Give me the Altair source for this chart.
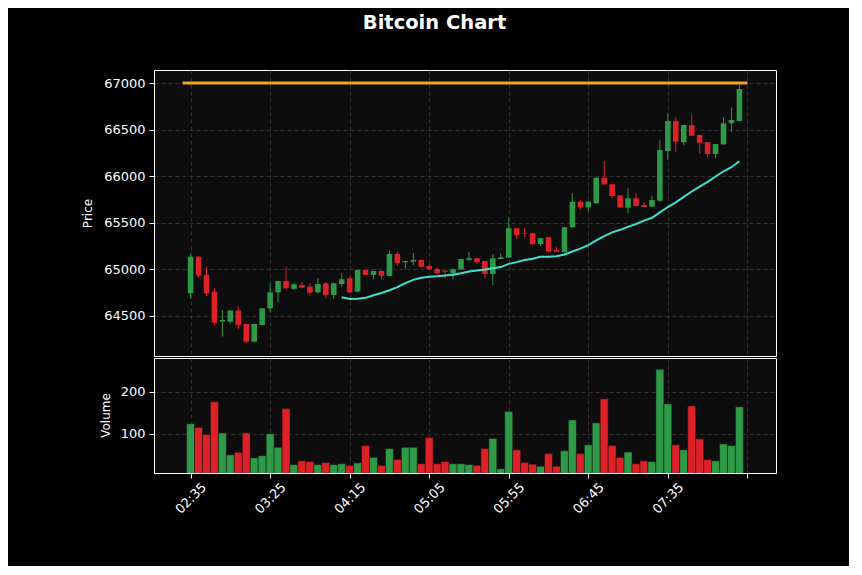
import altair as alt
import pandas as pd

# ---- data (5-minute candles, first at 02:35) ----
opens = [64744, 65136, 64940, 64761, 64439, 64439, 64557, 64414, 64224, 64403,
         64582, 64754, 64875, 64790, 64832, 64814, 64754, 64851, 64725, 64843,
         64904, 64761, 64993, 64940, 64983, 64929, 65165, 65076, 65082, 65101,
         65036, 65004, 64986, 64958, 64999, 65101, 65119, 65090, 64951, 65111,
         65126, 65441, 65387, 65387, 65272, 65345, 65208, 65183, 65452, 65726,
         65666, 65709, 65984, 65913, 65793, 65662, 65763, 65691, 65673, 65737,
         66270, 66592, 66364, 66549, 66442, 66364, 66238, 66342, 66568, 66592]
highs = [65165, 65140, 65029, 64797, 64564, 64564, 64600, 64418, 64418, 64585,
         64851, 64875, 65029, 64857, 64868, 64851, 64904, 64860, 64858, 64960,
         64922, 64997, 64997, 64986, 64986, 65201, 65190, 65093, 65179, 65108,
         65055, 65022, 64993, 65012, 65115, 65190, 65122, 65093, 65162, 65173,
         65559, 65445, 65441, 65390, 65337, 65348, 65244, 65455, 65816, 65745,
         65730, 65988, 66163, 65916, 65797, 65870, 65816, 65720, 65791, 66388,
         66675, 66638, 66553, 66664, 66445, 66367, 66348, 66632, 66739, 66979]
lows = [64689, 64911, 64715, 64403, 64278, 64422, 64357, 64207, 64215, 64400,
        64535, 64647, 64786, 64779, 64798, 64718, 64744, 64690, 64679, 64814,
        64744, 64755, 64935, 64894, 64894, 64922, 65036, 65001, 65047, 65012,
        64993, 64940, 64904, 64894, 64995, 65093, 65058, 64904, 64832, 65108,
        65123, 65323, 65334, 65262, 65251, 65179, 65188, 65180, 65449, 65637,
        65619, 65705, 65906, 65763, 65660, 65602, 65673, 65668, 65670, 65726,
        66174, 66263, 66335, 66430, 66246, 66203, 66192, 66338, 66477, 66588]
closes = [65136, 64932, 64744, 64428, 64457, 64557, 64403, 64224, 64414, 64582,
          64754, 64875, 64797, 64840, 64803, 64750, 64843, 64725, 64851, 64894,
          64754, 64993, 64940, 64983, 64932, 65165, 65065, 65090, 65101, 65029,
          65001, 64958, 64975, 65001, 65111, 65119, 65076, 64951, 65119, 65130,
          65441, 65369, 65380, 65272, 65334, 65190, 65190, 65452, 65726, 65666,
          65726, 65984, 65913, 65787, 65664, 65763, 65680, 65670, 65745, 66281,
          66592, 66370, 66549, 66434, 66359, 66238, 66345, 66568, 66603, 66936]
volumes = [124, 115, 98, 176, 102, 50, 56, 102, 43, 48,
           100, 68, 160, 27, 36, 34, 27, 32, 27, 29,
           25, 31, 72, 44, 25, 65, 39, 68, 68, 29,
           91, 29, 34, 29, 29, 27, 25, 65, 89, 17,
           153, 62, 32, 28, 23, 53, 23, 60, 133, 53,
           74, 126, 183, 72, 44, 57, 29, 36, 34, 253,
           171, 74, 62, 166, 88, 39, 36, 76, 72, 164]

tick_positions = [0, 10, 20, 30, 40, 50, 60, 70]
tick_labels = ["02:35", "03:25", "04:15", "05:05", "05:55", "06:45", "07:35", ""]
reference_level = 67000
ma_window = 20

UP = "#2e9946"
DOWN = "#dc2127"
FONT = "DejaVu Sans"

df = pd.DataFrame({
    "idx": list(range(len(closes))),
    "open": opens, "high": highs, "low": lows, "close": closes,
    "volume": volumes,
})
df["dir"] = ["up" if c >= o else "down" for o, c in zip(opens, closes)]

level_df = pd.DataFrame({
    "x": [df["idx"].min() - 1], "x2": [df["idx"].max() + 1], "y": [reference_level]
})

x_dom = [-4.6, 73.6]
label_expr = "[" + ",".join(f"'{t}'" for t in tick_labels) + "][round(datum.value/10)]"

color = alt.Color("dir:N", scale=alt.Scale(domain=["up", "down"], range=[UP, DOWN]), legend=None)

x_price = alt.X("idx:Q", scale=alt.Scale(domain=x_dom, nice=False, zero=False),
                axis=alt.Axis(values=tick_positions, labels=False, ticks=False, domain=False,
                              title=None))
y_scale = alt.Scale(domain=[64070, 67140], nice=False, zero=False)
y_axis = alt.Axis(values=[64500, 65000, 65500, 66000, 66500, 67000], title="Price",
                  titleX=-67, titleY=143, titleAlign="center", titleBaseline="middle",
                  titleAngle=-90, format="d")

base = alt.Chart(df)

wicks = base.mark_rule(strokeWidth=1).encode(
    x=x_price,
    y=alt.Y("low:Q", scale=y_scale, axis=y_axis),
    y2="high:Q",
    color=color,
)
bodies = base.transform_calculate(
    xa="datum.idx - 0.35", xb="datum.idx + 0.35"
).mark_bar().encode(
    x="xa:Q", x2="xb:Q",
    y="open:Q", y2="close:Q",
    color=color,
)
ma = base.transform_window(
    ma="mean(close)", n="count()", frame=[-(ma_window - 1), 0]
).transform_filter(f"datum.n >= {ma_window}").mark_line(
    color="#40e0d0", strokeWidth=2
).encode(x="idx:Q", y="ma:Q")

level = alt.Chart(level_df).mark_rule(color="#f5a623", strokeWidth=3).encode(
    x="x:Q", x2="x2:Q", y="y:Q"
)

price = alt.layer(level, wicks, bodies, ma).properties(width=622, height=286)

vol = base.transform_calculate(
    xa="datum.idx - 0.5", xb="datum.idx + 0.5"
).mark_bar(clip=True, stroke="#111111", strokeWidth=0.5).encode(
    x=alt.X("xa:Q", scale=alt.Scale(domain=x_dom, nice=False, zero=False),
            axis=alt.Axis(values=tick_positions, labelExpr=label_expr, labelAngle=-45,
                          labelAlign="center", labelBaseline="middle", labelPadding=20,
                          tickSize=5, title=None)),
    x2="xb:Q",
    y=alt.Y("volume:Q", scale=alt.Scale(domain=[7, 280], nice=False, zero=False),
            axis=alt.Axis(values=[100, 200], title="Volume", titleX=-49, titleY=57,
                          titleAlign="center", titleBaseline="middle", titleAngle=-90)),
    y2=alt.datum(0),
    color=color,
).properties(width=622, height=115)

chart = alt.vconcat(price, vol, spacing=0).properties(
    title=alt.TitleParams("Bitcoin Chart", fontSize=19.5, fontWeight="bold", color="white",
                          font=FONT, anchor="middle", dx=6, offset=36),
    background="black",
    padding={"left": 72, "top": 5, "right": 72, "bottom": 49},
).configure_view(
    stroke="white", strokeWidth=1, fill="#0d0d0d"
).configure_axis(
    labelColor="white", titleColor="white", tickColor="white", domainColor="white",
    labelFont=FONT, titleFont=FONT, labelFontSize=13, titleFontSize=12,
    titleFontWeight="normal", gridColor="#3a3a3a", gridDash=[4, 3], gridWidth=0.8,
    tickSize=5, labelPadding=4,
)

chart.save("out.html", embed_options={"renderer": "svg", "actions": False})
